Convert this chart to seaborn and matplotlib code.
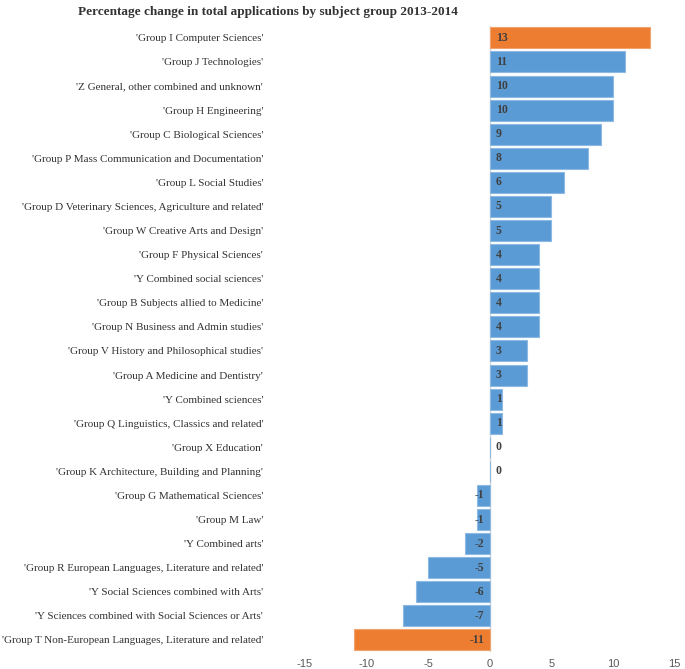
import pandas as pd
import matplotlib.pyplot as plt
import seaborn as sns

categories = [
    "'Group I Computer Sciences'",
    "'Group J Technologies'",
    "'Z General, other combined and unknown'",
    "'Group H Engineering'",
    "'Group C Biological Sciences'",
    "'Group P Mass Communication and Documentation'",
    "'Group L Social Studies'",
    "'Group D Veterinary Sciences, Agriculture and related'",
    "'Group W Creative Arts and Design'",
    "'Group F Physical Sciences'",
    "'Y Combined social sciences'",
    "'Group B Subjects allied to Medicine'",
    "'Group N Business and Admin studies'",
    "'Group V History and Philosophical studies'",
    "'Group A Medicine and Dentistry'",
    "'Y Combined sciences'",
    "'Group Q Linguistics, Classics and related'",
    "'Group X Education'",
    "'Group K Architecture, Building and Planning'",
    "'Group G Mathematical Sciences'",
    "'Group M Law'",
    "'Y Combined arts'",
    "'Group R European Languages, Literature and related'",
    "'Y Social Sciences combined with Arts'",
    "'Y Sciences combined with Social Sciences or Arts'",
    "'Group T Non-European Languages, Literature and related'",
]
values = [13, 11, 10, 10, 9, 8, 6, 5, 5, 4, 4, 4, 4, 3, 3, 1, 1, 0, 0,
          -1, -1, -2, -5, -6, -7, -11]

blue = '#5B9BD5'
orange = '#ED7D31'
highlight = [categories[0], categories[-1]]

df = pd.DataFrame({'subject': categories, 'change': values})
df['kind'] = ['hi' if c in highlight else 'normal' for c in df['subject']]

sns.set_style('white')
plt.rcParams['font.family'] = ['Liberation Serif', 'DejaVu Serif']

fig = plt.figure(figsize=(6.85, 6.69), dpi=100)
ax = fig.add_axes([0.445, 0.0254, 0.540, 0.936])

sns.barplot(data=df, x='change', y='subject', hue='kind',
            palette={'hi': orange, 'normal': blue}, orient='h',
            width=0.87, dodge=False, legend=False, ax=ax, saturation=1,
            edgecolor='#8DB9E3', linewidth=0.8)
# lighter rim on the orange bars too
for p in ax.patches:
    if p.get_facecolor()[0] > 0.8:
        p.set_edgecolor('#F3A36E')

ax.axvline(0, color='#D9D9D9', lw=1, zorder=0)

for i, v in enumerate(values):
    if v >= 0:
        ax.text(0.5, i, str(v), ha='left', va='center', fontsize=8.5,
                fontweight='bold', color='#404040')
    else:
        ax.text(-0.45, i, str(v), ha='right', va='center', fontsize=8.5,
                fontweight='bold', color='#404040')

ax.set_xlim(-15, 15)
ax.set_ylim(25.5, -0.5)
ax.set_xticks(range(-15, 16, 5))
ax.set_xticklabels([str(t) for t in range(-15, 16, 5)], family='Liberation Sans',
                   fontsize=8, color='#595959')
ax.tick_params(axis='y', length=0, pad=30, labelsize=8, labelcolor='#333333')
ax.tick_params(axis='x', length=0, pad=5)
ax.set_xlabel('')
ax.set_ylabel('')
for s in ax.spines.values():
    s.set_visible(False)

fig.text(0.114, 0.982, 'Percentage change in total applications by subject group 2013-2014',
         fontsize=9.5, fontweight='bold', color='#333333', va='center', ha='left')

fig.savefig('out.png', dpi=100)
